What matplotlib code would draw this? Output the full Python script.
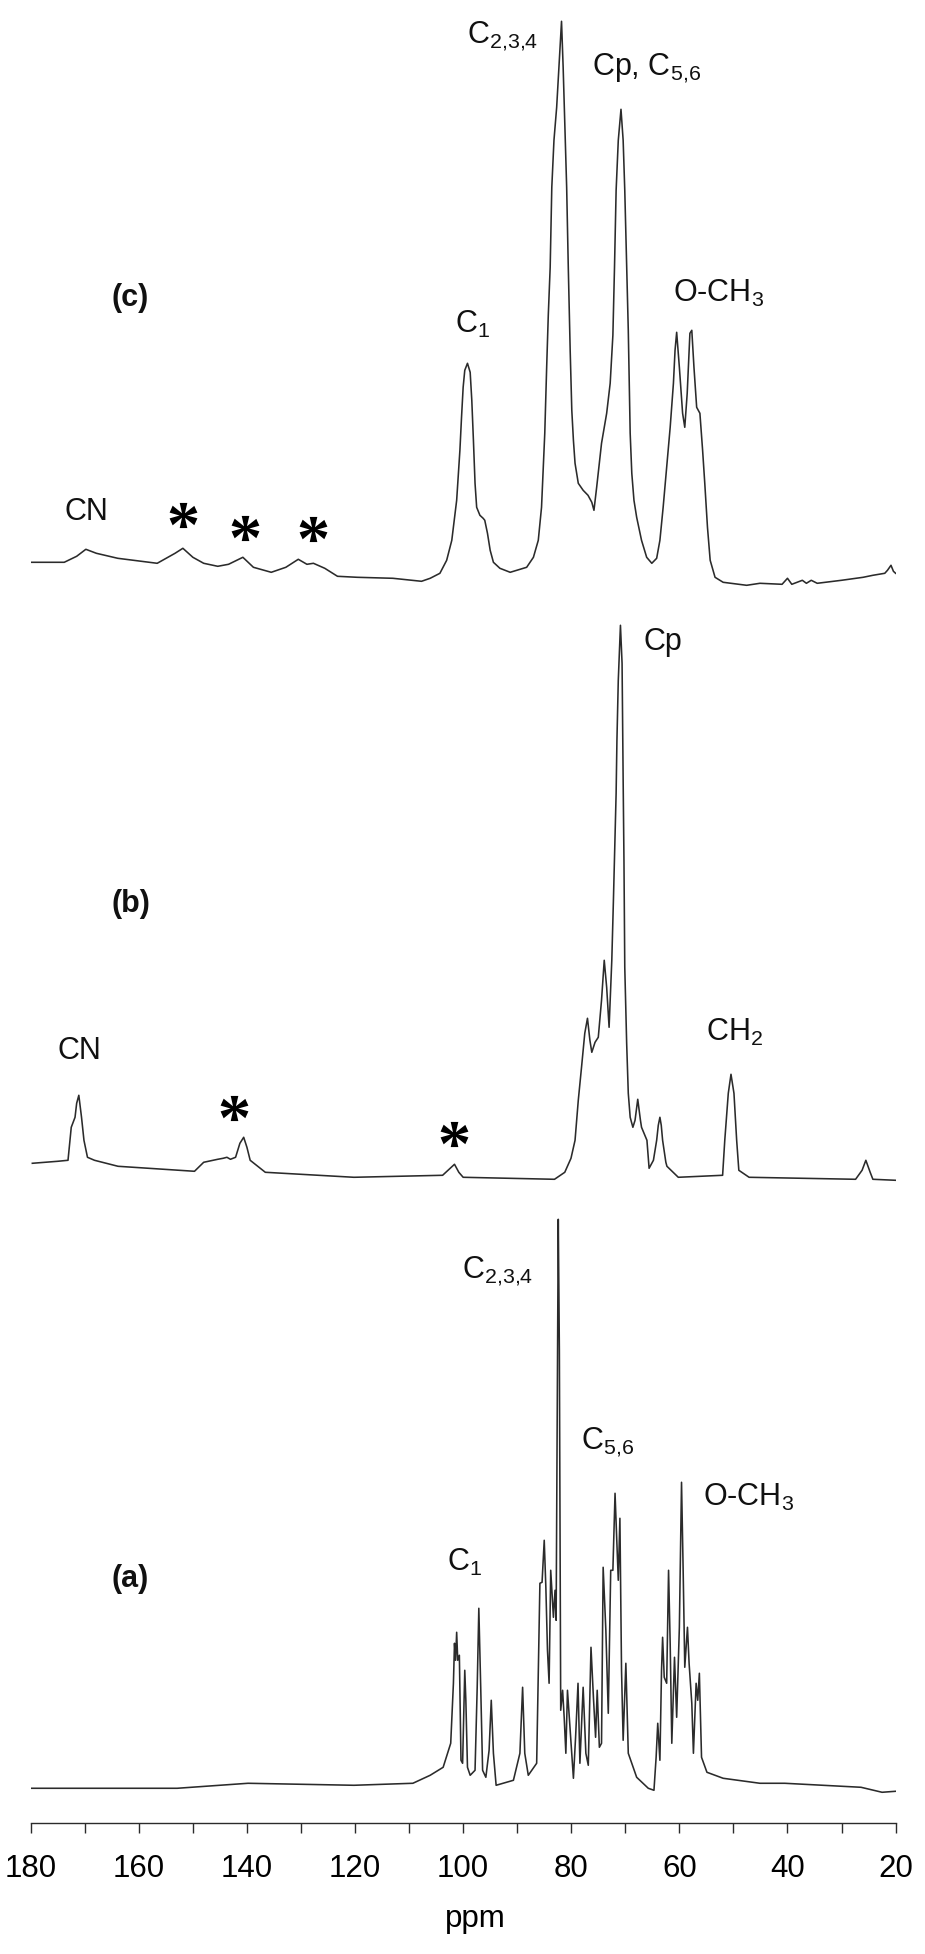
import matplotlib
matplotlib.use("Agg")
import matplotlib.pyplot as plt
from matplotlib.path import Path
from matplotlib.textpath import TextPath
from matplotlib.font_manager import FontProperties

plt.rcParams['font.family'] = ['Liberation Sans', 'DejaVu Sans']
plt.rcParams['mathtext.fontset'] = 'custom'
plt.rcParams['mathtext.rm'] = 'Liberation Sans'
plt.rcParams['mathtext.it'] = 'Liberation Sans:italic'
plt.rcParams['mathtext.bf'] = 'Liberation Sans:bold'
plt.rcParams['mathtext.default'] = 'regular'

# --- spectrum (a): ppm / intensity ---
ppm_a = [180.0, 152.9, 139.8, 120.2, 109.3, 106.1, 103.7, 102.3, 101.8, 101.6,
         101.4, 101.2, 101.0, 100.7, 100.4, 100.1, 99.7, 99.5, 99.2, 98.7,
         97.8, 97.4, 97.1, 96.75, 96.4, 95.8, 95.2, 94.8, 94.4, 93.9,
         90.7, 89.5, 89.0, 88.6, 87.95, 86.4, 85.8, 85.4, 85.0, 84.7,
         84.4, 84.1, 83.8, 83.3, 83.0, 82.8, 82.5, 82.4, 82.2, 81.95,
         81.6, 81.3, 81.0, 80.7, 80.2, 79.6, 79.2, 78.75, 78.4, 77.8,
         77.3, 76.85, 76.35, 75.9, 75.5, 75.2, 74.8, 74.4, 74.1, 73.6,
         73.15, 72.7, 72.3, 71.9, 71.6, 71.3, 71.0, 70.7, 70.4, 69.9,
         69.45, 67.9, 65.75, 64.7, 64.3, 64.0, 63.6, 63.3, 63.1, 62.8,
         62.35, 62.0, 61.7, 61.4, 60.9, 60.5, 60.0, 59.6, 59.3, 59.0,
         58.5, 58.2, 57.7, 57.4, 56.9, 56.6, 56.3, 55.9, 54.9, 51.9,
         45.1, 40.5, 26.4, 22.5, 20.0]
int_a = [7, 7, 12, 10, 12, 20, 28, 52, 112, 152,
         135, 163, 135, 140, 35, 32, 125, 95, 28, 20,
         25, 108, 187, 108, 25, 18, 45, 95, 42, 10,
         15, 42, 108, 42, 20, 32, 212, 213, 255, 208,
         145, 112, 225, 178, 205, 175, 478, 576, 445, 85,
         105, 77, 42, 105, 65, 17, 58, 112, 32, 108,
         42, 30, 148, 98, 58, 105, 48, 52, 228, 165,
         82, 225, 225, 302, 258, 215, 277, 125, 55, 132,
         42, 18, 7, 5, 38, 72, 35, 125, 158, 118,
         112, 225, 152, 52, 138, 78, 168, 313, 225, 128,
         168, 132, 92, 42, 112, 95, 122, 38, 23, 17,
         12, 12, 8, 3, 4]

# --- spectrum (b) ---
ppm_b = [179.7, 175.0, 173.1, 172.5, 171.8, 171.5, 171.1, 170.6, 170.15, 169.5,
         168.2, 163.85, 149.7, 148.0, 145.4, 144.4, 143.7, 143.05, 142.1, 141.3,
         140.6, 140.0, 139.4, 136.6, 120.2, 103.8, 102.8, 101.6, 100.8, 100.0,
         83.1, 81.2, 80.05, 79.3, 78.7, 78.1, 77.5, 77.0, 76.55, 76.2,
         75.6, 75.0, 74.4, 73.9, 73.45, 73.0, 72.5, 72.2, 71.7, 71.55,
         71.3, 70.9, 70.6, 70.4, 70.25, 70.1, 69.75, 69.45, 69.1, 68.6,
         68.2, 67.7, 67.2, 67.0, 66.0, 65.6, 64.8, 64.2, 63.9, 63.6,
         63.35, 63.1, 62.5, 62.3, 60.2, 52.0, 51.6, 50.95, 50.45, 49.9,
         49.4, 49.0, 47.1, 27.4, 26.2, 25.5, 24.7, 24.2, 20.0]
int_b = [17, 19, 20, 53, 63, 77, 85, 63, 40, 23,
         20, 14, 9, 18, 21, 22, 23, 21, 23, 37,
         43, 33, 20, 8, 3, 5, 10, 16, 8, 3,
         1, 8, 22, 40, 80, 113, 147, 162, 140, 128,
         138, 143, 180, 220, 193, 153, 220, 280, 387, 440,
         500, 555, 517, 400, 320, 213, 137, 87, 63, 53,
         60, 81, 60, 53, 40, 12, 20, 40, 55, 63,
         55, 40, 18, 14, 3, 5, 40, 87, 106, 87,
         40, 10, 3, 1, 10, 20, 8, 1, 0]

# --- spectrum (c) ---
ppm_c = [179.8, 173.8, 171.5, 169.8, 167.85, 163.9, 156.6, 154.6, 153.3, 151.85,
         150.0, 148.0, 145.4, 143.4, 140.75, 138.8, 135.5, 132.8, 130.5, 128.9,
         127.7, 125.6, 123.25, 119.6, 113.0, 107.7, 106.1, 104.3, 103.05, 102.1,
         101.2, 100.6, 100.3, 100.0, 99.7, 99.2, 98.7, 98.4, 98.1, 97.8,
         97.5, 96.9, 96.3, 96.0, 95.5, 95.0, 94.4, 93.2, 91.3, 88.25,
         87.0, 86.1, 85.5, 84.9, 84.55, 84.25, 83.9, 83.6, 83.2, 82.7,
         82.2, 81.8, 81.5, 81.2, 80.85, 80.55, 80.2, 79.9, 79.6, 79.3,
         78.7, 77.8, 76.9, 76.2, 75.8, 75.3, 74.4, 73.45, 72.8, 72.3,
         72.0, 71.7, 71.3, 70.8, 70.4, 70.1, 69.75, 69.45, 69.1, 68.8,
         68.4, 67.9, 67.0, 66.05, 65.1, 64.2, 63.6, 63.0, 62.35, 61.7,
         61.1, 60.8, 60.5, 60.0, 59.4, 59.0, 58.55, 58.05, 57.7, 57.3,
         56.8, 56.2, 55.7, 55.3, 54.8, 54.3, 53.4, 51.9, 47.55, 45.1,
         41.0, 40.0, 39.2, 37.25, 36.5, 35.6, 34.5, 30.0, 26.0, 24.2,
         22.0, 21.5, 20.85, 20.4, 20.0]
int_c = [28, 28, 34, 41, 37, 32, 27, 33, 37, 42,
         33, 27, 24, 26, 33, 23, 18, 23, 31, 26,
         27, 22, 14, 13, 12, 9, 12, 17, 30, 50,
         90, 140, 173, 203, 220, 227, 218, 190, 150, 107,
         83, 75, 72, 70, 57, 40, 28, 22, 18, 23,
         33, 50, 83, 157, 223, 275, 323, 403, 450, 483,
         530, 569, 523, 467, 403, 323, 240, 180, 150, 127,
         107, 100, 95, 88, 80, 103, 147, 177, 207, 255,
         323, 400, 450, 481, 450, 400, 323, 260, 157, 117,
         90, 73, 50, 33, 27, 32, 50, 83, 123, 163,
         207, 240, 258, 223, 177, 163, 197, 257, 260, 223,
         183, 177, 140, 107, 63, 30, 13, 8, 5, 7,
         6, 12, 6, 10, 7, 10, 7, 10, 13, 15,
         17, 20, 25, 19, 17]

# vertical offsets of the stacked traces
offsets = {"a": 28, "b": 643, "c": 1233}

# peak labels: (text, ppm, height, bold)
labels = [
    ("(c)", 165.0, 1517, True), ("CN", 173.8, 1303, False),
    (r"C$_1$", 101.5, 1490, False), (r"C$_{2{,}3{,}4}$", 99.3, 1780, False),
    (r"Cp, C$_{5{,}6}$", 76.2, 1748, False), (r"O-CH$_3$", 61.1, 1521, False),
    ("(b)", 165.0, 911, True), ("CN", 175.0, 764, False),
    ("Cp", 66.7, 1173, False), (r"CH$_2$", 55.1, 782, False),
    ("(a)", 165.0, 236, True), (r"C$_1$", 103.0, 252, False),
    (r"C$_{2{,}3{,}4}$", 100.3, 545, False), (r"C$_{5{,}6}$", 78.2, 374, False),
    (r"O-CH$_3$", 55.6, 317, False),
]
# spinning side band markers
star_ppm = [151.85, 140.4, 127.8, 142.4, 101.7]
star_y = [1308, 1295, 1294, 715, 689]

fig = plt.figure(figsize=(9.25, 19.54), dpi=100)
ax = fig.add_axes([0.0332, 0.0669, 0.9350, 0.9331])

cor = '#2b2b2b'
ax.plot(ppm_a, [v + offsets["a"] for v in int_a], color=cor, lw=1.15, solid_joinstyle='round')
ax.plot(ppm_b, [v + offsets["b"] for v in int_b], color=cor, lw=1.15, solid_joinstyle='round')
ax.plot(ppm_c, [v + offsets["c"] for v in int_c], color=cor, lw=1.15, solid_joinstyle='round')

for txt, x, y, bold in labels:
    ax.text(x, y, txt, fontsize=22, ha='left', va='baseline',
            fontweight='bold' if bold else 'normal', color='#111111')

# asterisk glyph as a centred marker
tp = TextPath((0, 0), '*', size=1, prop=FontProperties(family='Liberation Serif', weight='bold'))
verts = tp.vertices.copy()
for i, c in enumerate(tp.codes):
    if c == Path.CLOSEPOLY:
        verts[i] = verts[i - 1]
centro = (verts.min(axis=0) + verts.max(axis=0)) / 2
estrela = Path(verts - centro, tp.codes)
ax.plot(star_ppm, star_y, linestyle='none', marker=estrela, markersize=20,
        color='black', markeredgewidth=0)

ax.set_xlim(180, 20)
ax.set_ylim(0, 1823.3)
for s in ['left', 'right', 'top']:
    ax.spines[s].set_visible(False)
ax.spines['bottom'].set_linewidth(1.0)
ax.spines['bottom'].set_color(cor)
ax.set_yticks([])
ax.set_xticks(range(180, 19, -20))
ax.set_xticks(range(170, 20, -20), minor=True)
ax.tick_params(axis='x', which='both', direction='out', length=7.2, width=1.0,
               color=cor, labelsize=22.5, pad=15)
ax.set_xlabel("ppm", fontsize=22.5)
ax.xaxis.set_label_coords(0.5137, -0.0567)
ax.xaxis.label.set_va('baseline')

fig.savefig("out.png", dpi=100)
